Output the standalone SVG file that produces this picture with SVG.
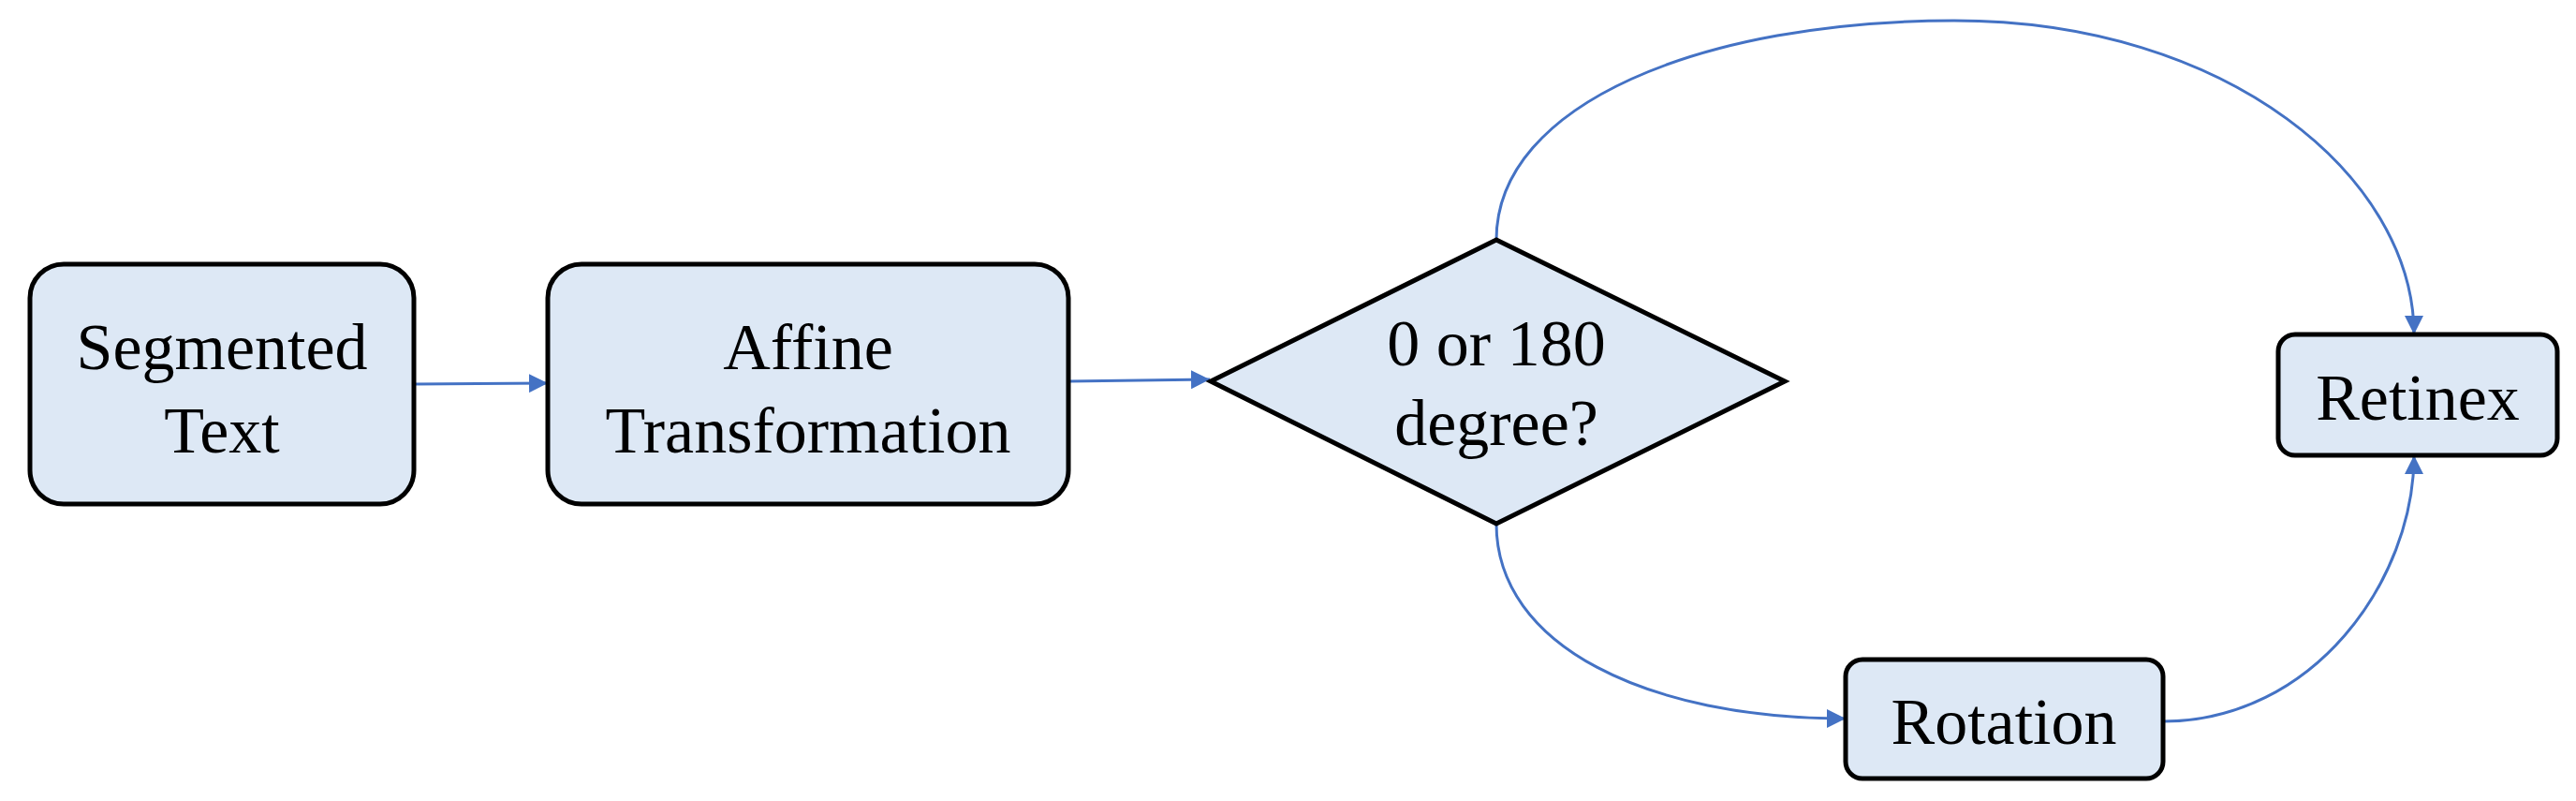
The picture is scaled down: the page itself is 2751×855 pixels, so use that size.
<svg xmlns="http://www.w3.org/2000/svg" width="2751" height="855" viewBox="0 0 2751 855">
<style>
.n{fill:#dde8f5;stroke:#000;stroke-width:5}
.t{font-family:"Liberation Serif",serif;font-size:70px;fill:#000;text-anchor:middle}
.c{fill:none;stroke:#4472c4;stroke-width:3}
</style>
<defs><marker id="a" markerWidth="8" markerHeight="8" refX="7" refY="4" orient="auto" markerUnits="userSpaceOnUse" viewBox="0 0 8 8"><path d="M0,0L8,4L0,8z" fill="#4472c4"/></marker>
<marker id="b" viewBox="0 0 10 10" refX="10" refY="5" markerWidth="20" markerHeight="20" orient="auto" markerUnits="userSpaceOnUse"><path d="M0,0L10,5L0,10z" fill="#4472c4"/></marker></defs>
<rect width="2751" height="855" fill="#fff"/>
<g id="connectors">
<path class="c" d="M442,410L585,409" marker-end="url(#b)"/>
<path class="c" d="M1141,407L1292,405" marker-end="url(#b)"/>
<path class="c" d="M1598,256C1598,110 1820,22 2087,22C2380,22 2578,190 2578,357" marker-end="url(#b)"/>
<path class="c" d="M1598,559C1598,690 1760,767 1971,767" marker-end="url(#b)"/>
<path class="c" d="M2310,770C2470,770 2578,620 2578,486" marker-end="url(#b)"/>
</g>
<g id="segmented"><rect class="n" x="32" y="282" width="410" height="256" rx="36"/><text class="t" x="237" y="394">Segmented</text><text class="t" x="237" y="483">Text</text></g>
<g id="affine"><rect class="n" x="585" y="282" width="556" height="256" rx="36"/><text class="t" x="863" y="394">Affine</text><text class="t" x="863" y="483">Transformation</text></g>
<g id="decision"><polygon class="n" points="1598,256 1906,407 1598,559 1293,407"/><text class="t" x="1598" y="390">0 or 180</text><text class="t" x="1598" y="475">degree?</text></g>
<g id="retinex"><rect class="n" x="2433" y="357" width="298" height="129" rx="18"/><text class="t" x="2582" y="448">Retinex</text></g>
<g id="rotation"><rect class="n" x="1971" y="704" width="339" height="127" rx="18"/><text class="t" x="2140" y="794">Rotation</text></g>
</svg>
